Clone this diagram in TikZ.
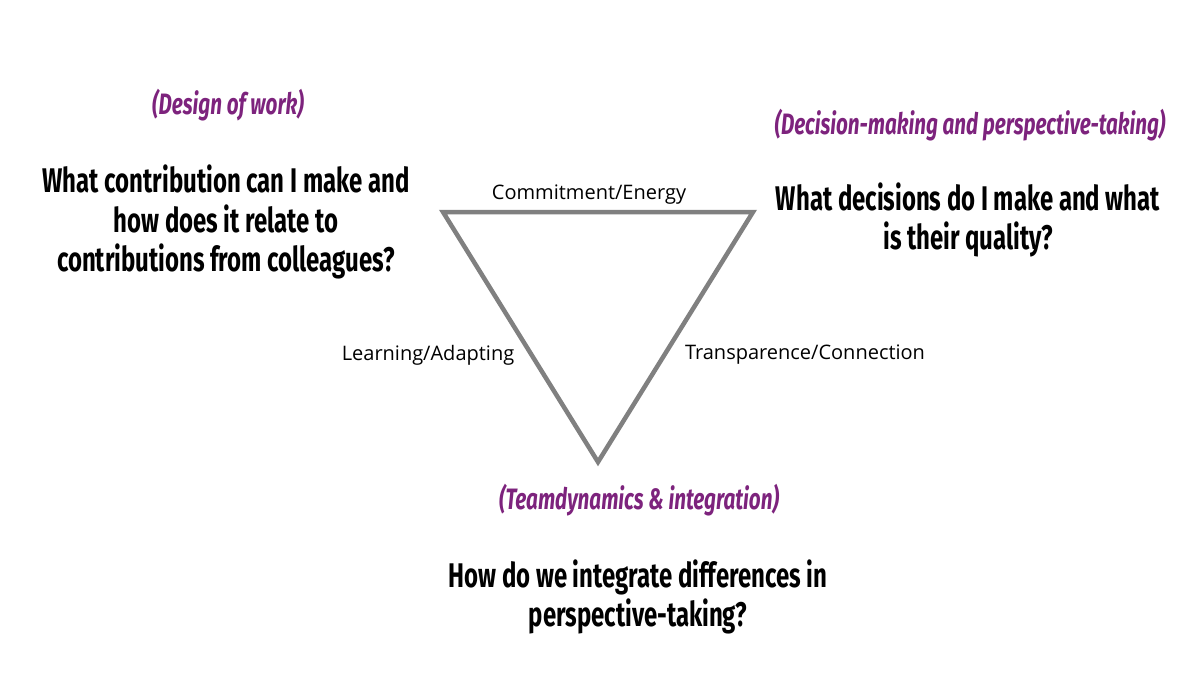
\documentclass[tikz,border=0pt]{standalone}
\usepackage{fontspec}
\setmainfont{Open Sans}
\newfontfamily\headfont{Fira Sans}[FakeStretch=0.70]
\definecolor{purp}{RGB}{125,35,125}
\definecolor{trigray}{RGB}{128,128,128}
\begin{document}
\begin{tikzpicture}[x=1pt,y=-1pt,
  head/.style={font=\headfont\bfseries\fontsize{34.2}{39.5}\selectfont,align=center,text=black,inner sep=0pt},
  sub/.style={font=\headfont\bfseries\itshape\fontsize{29.5}{32}\selectfont,text=purp,inner sep=0pt},
  edgelab/.style={font=\fontsize{20}{24}\selectfont,text=black,inner sep=0pt}]
\useasboundingbox (0,0) rectangle (1200,675);
\fill[white] (0,0) rectangle (1200,675);
% triangle
\coordinate (tl) at (443,212);
\coordinate (tr) at (753,212);
\coordinate (bt) at (598,462);
\draw[trigray,line width=4.5pt,line join=miter] (tl) -- (tr) -- (bt) -- cycle;
% edge labels
\node[edgelab] (ce) at (589,195) {Commitment/Energy};
\node[edgelab] (la) at (428,355) {Learning/Adapting};
\node[edgelab] (tc) at (805,355) {Transparence/Connection};
% subtitles
\node[sub] (dw) at (228,105) {(Design of work)};
\node[sub] (dm) at (970,125) {(Decision-making and perspective-taking)};
\node[sub] (ti) at (639,500) {(Teamdynamics \& integration)};
% questions
\node[head] (q1) at (226,222) {What contribution can I make and\\how does it relate to\\contributions from colleagues?};
\node[head] (q2) at (968,220) {What decisions do I make and what\\is their quality?};
\node[head] (q3) at (638,597) {How do we integrate differences in\\perspective-taking?};
\end{tikzpicture}
\end{document}
